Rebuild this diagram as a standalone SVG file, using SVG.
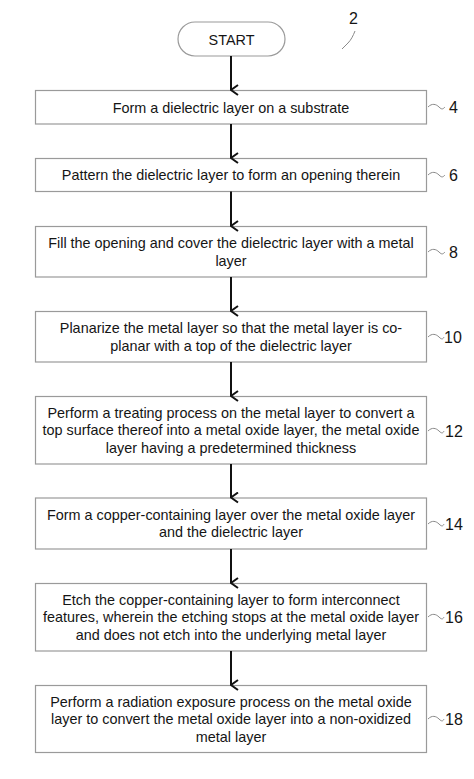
<svg xmlns="http://www.w3.org/2000/svg" width="474" height="779" viewBox="0 0 474 779">
<defs>
<style>
.box{fill:#fff;stroke:#9a9a9a;stroke-width:1.2}
.t{font-family:"Liberation Sans",Arial,sans-serif;font-size:14.4px;fill:#151515;text-anchor:middle}
.n{font-family:"Liberation Sans",Arial,sans-serif;font-size:16px;fill:#151515}
.ed{stroke:#111;stroke-width:2;fill:none}
.sq{stroke:#8a8a8a;stroke-width:1;fill:none}
</style>
<marker id="ah" viewBox="0 0 12 10" refX="6" refY="9" markerWidth="12" markerHeight="10" markerUnits="userSpaceOnUse" orient="auto-start-reverse">
<polyline points="1,2 6,9 11,2" fill="none" stroke="#111" stroke-width="2"/>
</marker>
</defs>
<rect width="474" height="779" fill="#fff"/>
<g id="label2">
<text class="n" x="349" y="24">2</text>
<path class="sq" d="M355,31 C353,36 351,40 348,43 C346,45 344,47 342,49"/>
</g>
<g id="start">
<rect class="box" x="178" y="22" width="107" height="34" rx="17"/>
<text class="t" x="231.5" y="44.5">START</text>
</g>
<g id="step4">
<rect class="box" x="35.5" y="90.5" width="391" height="33.5"/>
<text class="t" x="231" y="112.5">Form a dielectric layer on a substrate</text>
<path class="sq" d="M428,107 c4,-4 8,-3 11,0 s4,2 6,0"/>
<text class="n" x="449" y="113">4</text>
</g>
<g id="step6">
<rect class="box" x="35.5" y="158.5" width="391" height="33"/>
<text class="t" x="231" y="180">Pattern the dielectric layer to form an opening therein</text>
<path class="sq" d="M428,175 c4,-4 8,-3 11,0 s4,2 6,0"/>
<text class="n" x="449" y="181">6</text>
</g>
<g id="step8">
<rect class="box" x="35.5" y="226.5" width="391" height="50.5"/>
<text class="t" x="231" y="248">Fill the opening and cover the dielectric layer with a metal</text>
<text class="t" x="231" y="265.5">layer</text>
<path class="sq" d="M428,252 c4,-4 8,-3 11,0 s4,2 6,0"/>
<text class="n" x="449" y="258">8</text>
</g>
<g id="step10">
<rect class="box" x="35.5" y="311.5" width="391" height="50.5"/>
<text class="t" x="231" y="333">Planarize the metal layer so that the metal layer is co-</text>
<text class="t" x="231" y="350.5">planar with a top of the dielectric layer</text>
<path class="sq" d="M428,337 c4,-4 8,-3 11,0 s4,2 5,0"/>
<text class="n" x="444" y="343">10</text>
</g>
<g id="step12">
<rect class="box" x="35.5" y="396.5" width="391" height="67.5"/>
<text class="t" x="231" y="418">Perform a treating process on the metal layer to convert a</text>
<text class="t" x="231" y="435.3">top surface thereof into a metal oxide layer, the metal oxide</text>
<text class="t" x="231" y="452.5">layer having a predetermined thickness</text>
<path class="sq" d="M428,431 c4,-4 8,-3 11,0 s4,2 5,0"/>
<text class="n" x="445" y="436.5">12</text>
</g>
<g id="step14">
<rect class="box" x="35.5" y="498" width="391" height="51"/>
<text class="t" x="231" y="520">Form a copper-containing layer over the metal oxide layer</text>
<text class="t" x="231" y="537">and the dielectric layer</text>
<path class="sq" d="M428,524 c4,-4 8,-3 11,0 s4,2 5,0"/>
<text class="n" x="445" y="530">14</text>
</g>
<g id="step16">
<rect class="box" x="35.5" y="583.5" width="391" height="67.5"/>
<text class="t" x="231" y="605">Etch the copper-containing layer to form interconnect</text>
<text class="t" x="231" y="622.3">features, wherein the etching stops at the metal oxide layer</text>
<text class="t" x="231" y="639.5">and does not etch into the underlying metal layer</text>
<path class="sq" d="M428,617 c4,-4 8,-3 11,0 s4,2 5,0"/>
<text class="n" x="445" y="623">16</text>
</g>
<g id="step18">
<rect class="box" x="35.5" y="685.5" width="391" height="67"/>
<text class="t" x="231" y="707">Perform a radiation exposure process on the metal oxide</text>
<text class="t" x="231" y="724.2">layer to convert the metal oxide layer into a non-oxidized</text>
<text class="t" x="231" y="741.5">metal layer</text>
<path class="sq" d="M428,719 c4,-4 8,-3 11,0 s4,2 5,0"/>
<text class="n" x="445" y="725">18</text>
</g>
<g id="connectors">
<line class="ed" x1="231" y1="56" x2="231" y2="90" marker-end="url(#ah)"/>
<line class="ed" x1="231" y1="124" x2="231" y2="158" marker-end="url(#ah)"/>
<line class="ed" x1="231" y1="191.5" x2="231" y2="226" marker-end="url(#ah)"/>
<line class="ed" x1="231" y1="277" x2="231" y2="311" marker-end="url(#ah)"/>
<line class="ed" x1="231" y1="362" x2="231" y2="396" marker-end="url(#ah)"/>
<line class="ed" x1="231" y1="464" x2="231" y2="497.5" marker-end="url(#ah)"/>
<line class="ed" x1="231" y1="549" x2="231" y2="583" marker-end="url(#ah)"/>
<line class="ed" x1="231" y1="651" x2="231" y2="685" marker-end="url(#ah)"/>
</g>
</svg>
